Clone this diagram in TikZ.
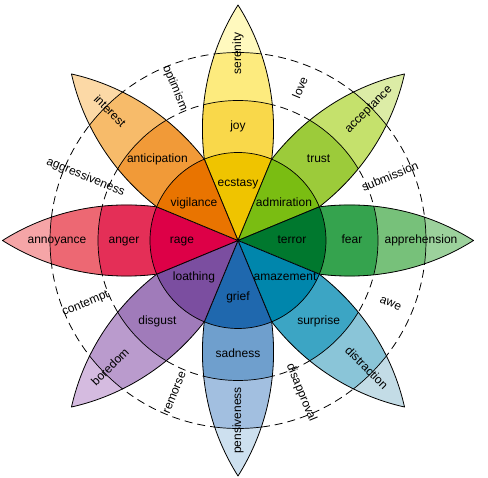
\documentclass[tikz,border=0pt]{standalone}
\usepackage{fontspec}
\setmainfont{Liberation Sans}

% petal colours: A = intense, B = basic, C = mild band, D = tip
\definecolor{joyA}{HTML}{EFC400}
\definecolor{joyB}{HTML}{F9D84A}
\definecolor{joyC}{HTML}{FDEB7E}
\definecolor{joyD}{HTML}{FFF9BE}
\definecolor{trustA}{HTML}{7ABD12}
\definecolor{trustB}{HTML}{9CCB3A}
\definecolor{trustC}{HTML}{C5E16C}
\definecolor{trustD}{HTML}{DCECA6}
\definecolor{fearA}{HTML}{00782E}
\definecolor{fearB}{HTML}{35A34E}
\definecolor{fearC}{HTML}{77C17A}
\definecolor{fearD}{HTML}{9CD19C}
\definecolor{surpriseA}{HTML}{0086AC}
\definecolor{surpriseB}{HTML}{3CA5C4}
\definecolor{surpriseC}{HTML}{8AC5D8}
\definecolor{surpriseD}{HTML}{C3DCE6}
\definecolor{sadnessA}{HTML}{1F68AE}
\definecolor{sadnessB}{HTML}{6F9FCD}
\definecolor{sadnessC}{HTML}{A2BFE0}
\definecolor{sadnessD}{HTML}{CDE0EF}
\definecolor{disgustA}{HTML}{7B4EA0}
\definecolor{disgustB}{HTML}{A07BBA}
\definecolor{disgustC}{HTML}{BA9BCD}
\definecolor{disgustD}{HTML}{D5BBE0}
\definecolor{angerA}{HTML}{DD0047}
\definecolor{angerB}{HTML}{E42F57}
\definecolor{angerC}{HTML}{ED6873}
\definecolor{angerD}{HTML}{F5A5A7}
\definecolor{anticipationA}{HTML}{E97400}
\definecolor{anticipationB}{HTML}{F19A38}
\definecolor{anticipationC}{HTML}{F7BB6A}
\definecolor{anticipationD}{HTML}{FCD9A6}

\begin{document}
\begin{tikzpicture}[
  x=1pt, y=1pt,
  every node/.style={font=\fontsize{12}{14}\selectfont, inner sep=0pt,
    text height=8.6pt, text depth=2.5pt},
  petal/.style={insert path={(0,0) -- (22.5:88)
    .. controls (135.1,40.4) and (189.3,29.2) .. (235.5,0)
    .. controls (189.3,-29.2) and (135.1,-40.4) .. (-22.5:88) -- cycle}},
  outline/.style={draw=black, line width=0.8pt, line join=round},
  band/.style={draw=black, line width=0.7pt},
  guide/.style={draw=black, line width=0.8pt, dash pattern=on 8pt off 5pt}
]
\useasboundingbox (-238,-237.5) rectangle (250,240.5);

% dashed rings behind the petals
\draw[guide] (0,0) circle[radius=140];
\draw[guide] (0,0) circle[radius=188];

% petals
\foreach \ang/\nm in {90/joy, 45/trust, 0/fear, -45/surprise,
                      -90/sadness, -135/disgust, 180/anger, 135/anticipation}{
  \begin{scope}[rotate=\ang]
    \begin{scope}
      \clip[petal];
      \fill[fill=\nm D] (0,0) circle[radius=240];
      \fill[fill=\nm C] (0,0) circle[radius=188];
      \fill[fill=\nm B] (0,0) circle[radius=140];
      \fill[fill=\nm A] (0,0) circle[radius=88];
      \foreach \r in {88,140,188}
        \draw[band] (0,0) circle[radius=\r];
    \end{scope}
    \path[outline, petal];
  \end{scope}
}

% intense emotions
\foreach \nm/\x/\y in {ecstasy/0/57, admiration/46/37, terror/54/0,
                       amazement/47/-37, grief/0/-57, loathing/-44/-37,
                       rage/-56/0, vigilance/-44/37}
  \node (\nm) at (\x,\y) {\nm};

% basic emotions
\foreach \nm/\ang in {joy/90, trust/45, fear/0, surprise/-45, sadness/-90,
                      disgust/-135, anger/180, anticipation/135}
  \node (\nm) at (\ang:114) {\nm};

% mild emotions
\foreach \nm/\ang/\rot/\r in {serenity/90/90/187, acceptance/45/45/185,
                              apprehension/0/0/183, distraction/-45/-45/181,
                              pensiveness/-90/90/180, boredom/-135/45/180,
                              annoyance/180/0/181, interest/135/-45/182}
  \node[rotate=\rot] (\nm) at (\ang:\r) {\nm};

% dyads
\foreach \nm/\ang/\rot in {love/67.5/67.5, submission/22.5/22.5,
                           awe/-22.5/-22.5, disapproval/-67.5/-67.5,
                           remorse/-112.5/67.5, contempt/-157.5/22.5,
                           aggressiveness/157.5/-22.5, optimism/112.5/-67.5}
  \node[rotate=\rot] (\nm) at (\ang:165) {\nm};

\end{tikzpicture}
\end{document}
